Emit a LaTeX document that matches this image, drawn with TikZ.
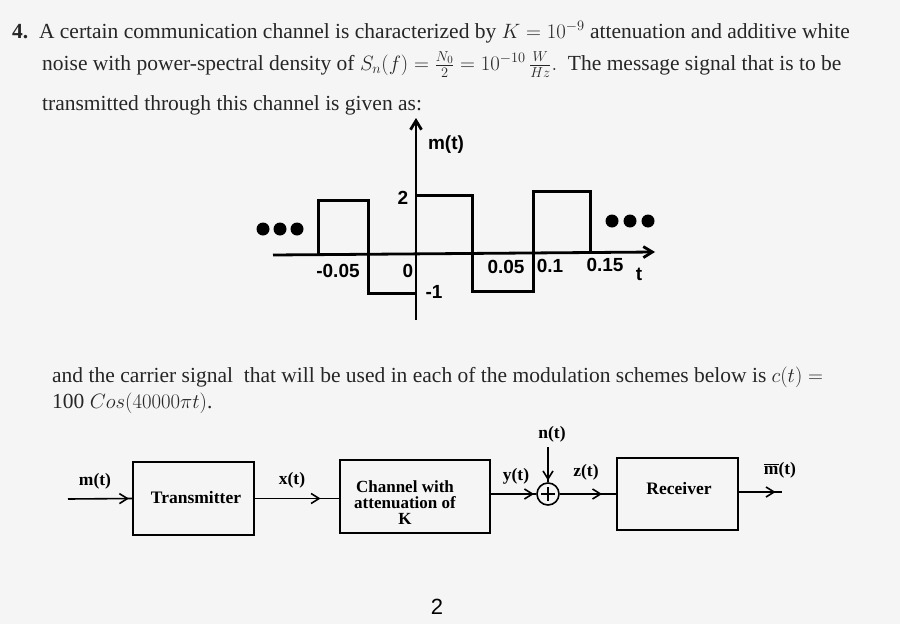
\documentclass[tikz,border=0pt]{standalone}
\usepackage{fontspec}
\setmainfont{Liberation Serif}
\newfontfamily\arial{Liberation Sans}
\usetikzlibrary{arrows.meta,decorations.markings}
\begin{document}
\begin{tikzpicture}[x=1pt,y=-1pt,
  txt/.style={anchor=base west,inner sep=0,font=\fontsize{21.5}{24}\selectfont,text=black!85},
  wl/.style={inner sep=0,font=\arial\bfseries\fontsize{19}{21}\selectfont},
  bl/.style={inner sep=0,font=\bfseries\fontsize{17.5}{19}\selectfont},
  blk/.style={draw,line width=1.8pt,inner sep=0},
  sig/.style={line width=1.6pt,postaction={decorate},decoration={markings,mark=at position #1 with {\arrow{Straight Barb[length=8pt,width=10pt,line width=1.6pt]}}}},
  wave/.style={line width=3pt}]
\fill[black!4] (0,0) rectangle (900,624);
\useasboundingbox (0,0) rectangle (900,624);
% text
\node[txt] (l1) at (12,38) {\textbf{4.}\ \ A certain communication channel is characterized by $K = 10^{-9}$ attenuation and additive white};
\node[txt] (l2) at (42,70) {noise with power-spectral density of $S_n(f) = \frac{N_0}{2} = 10^{-10}\,\frac{W}{Hz}.$ \ The message signal that is to be};
\node[txt] (l3) at (42,110) {transmitted through this channel is given as:};
\node[txt] (l4) at (52,382) {and the carrier signal\ \ that will be used in each of the modulation schemes below is $c(t) =$};
\node[txt] (l5) at (52,408) {100 $Cos(40000\pi t)$.};
% waveform
\coordinate (xa) at (273,255); \coordinate (xb) at (655,252);
\draw[line width=2.8pt,-{Straight Barb[length=9pt,width=11pt]}] (xa) -- (xb);
\coordinate (ya) at (416,320); \coordinate (yb) at (416,118);
\draw[line width=2.8pt,-{Straight Barb[length=9pt,width=11pt]}] (ya) -- (yb);
\draw[wave] (318,255) -- (318,200) -- (368,200) -- (368,293) -- (416,293)
  (416,195) -- (472,195) -- (472,291) -- (533,291) -- (533,191) -- (590,191) -- (590,252);
\foreach \x in {263,280,297} \fill (\x,229) circle (6.5);
\foreach \x in {612,630,648} \fill (\x,221) circle (6.5);
\node[wl] (m) at (446,145) {m(t)};
\node[wl] (two) at (403,198) {2};
\node[wl] (a) at (338,271) {-0.05};
\node[wl] (b) at (408,271) {0};
\node[wl] (c) at (506,267) {0.05};
\node[wl] (d) at (550,266) {0.1};
\node[wl] (e) at (605,265) {0.15};
\node[wl] (t) at (639,274) {t};
\node[wl] (mo) at (434,292) {-1};
% block diagram
\node[blk,minimum width=121pt,minimum height=73pt] (tx) at (193.5,498.5) {};
\node[bl] at (196,498) {Transmitter};
\node[blk,minimum width=150pt,minimum height=73pt] (ch) at (415,496.5) {};
\node[bl,align=center,font=\bfseries\fontsize{17}{16}\selectfont] at (405,503) {Channel with\\attenuation of\\K};
\node[draw,circle,line width=1.6pt,minimum size=22pt,inner sep=0] (sum) at (548,494) {};
\draw[line width=1.6pt] ([yshift=-7pt]sum.center) -- ([yshift=7pt]sum.center)
  ([xshift=-7pt]sum.center) -- ([xshift=7pt]sum.center);
\node[blk,minimum width=121pt,minimum height=72pt] (rx) at (677.5,494) {};
\node[bl] at (679,489) {Receiver};
\coordinate (in) at (68,499);
\coordinate (out) at (782,492);
\coordinate (nt) at (548,447);
\draw[sig=0.95] (in) -- (tx.west);
\draw[sig=0.78] (tx.east) -- (ch.west |- tx.east);
\draw[sig=0.95] (ch.east |- sum) -- (sum.west);
\draw[sig=0.95] (nt) -- (sum.north);
\draw[sig=0.75] (sum.east) -- (rx.west |- sum);
\draw[sig=0.85] (rx.east |- out) -- (out);
\node[bl] at (95,481) {m(t)};
\node[bl] at (292,480) {x(t)};
\node[bl] at (516,476) {y(t)};
\node[bl] at (552,434) {n(t)};
\node[bl] at (586,472) {z(t)};
\node[bl] at (780,470) {$\overline{\mbox{m}}$(t)};
\node[font=\arial\fontsize{22}{24}\selectfont,inner sep=0] (pg) at (437,607) {2};
\end{tikzpicture}
\end{document}
